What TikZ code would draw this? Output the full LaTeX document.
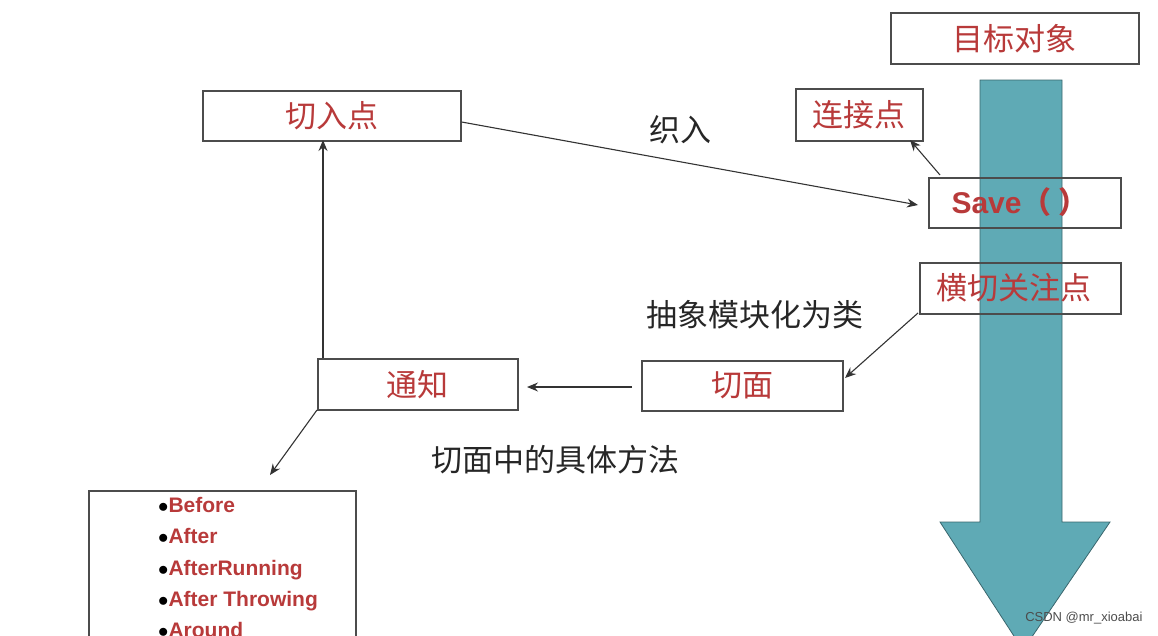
\documentclass[tikz,border=0pt]{standalone}
\usepackage{fontspec}
\setmainfont{Liberation Sans}
\newfontfamily\cjk{Noto Sans CJK SC}
\usetikzlibrary{arrows.meta}
\definecolor{tred}{HTML}{B83A3A}
\definecolor{teal1}{HTML}{5FAAB5}
\tikzset{
  bx/.style={draw=black!70, line width=1.6pt, anchor=north west, inner sep=0pt},
  bt/.style={text=tred, font=\cjk\fontsize{31}{34}\selectfont},
  lb/.style={font=\cjk\fontsize{31}{34}\selectfont, text=black!85},
  ar/.style={-{Stealth[length=11pt,width=9pt]}, line width=1.1pt, black!80},
}
\begin{document}
\begin{tikzpicture}[x=1pt,y=-1pt]
\useasboundingbox (0,0) rectangle (1158,635);
\clip (0,0) rectangle (1158,635);
% big arrow
\draw[fill=teal1, draw=teal1!60!black, line width=0.8pt]
  (980,80) -- (1062,80) -- (1062,522) -- (1110,522) -- (1023,650) -- (940,522) -- (980,522) -- cycle;
% boxes
\node[bx, minimum width=248, minimum height=51] (obj) at (890,12) {};
\node[bt] at (obj.center) {目标对象};
\node[bx, minimum width=258, minimum height=50] (cut) at (202,90) {};
\node[bt] at (cut.center) {切入点};
\node[bx, minimum width=127, minimum height=52] (jp) at (795,88) {};
\node[bt] at (jp.center) {连接点};
\node[bx, minimum width=192, minimum height=50] (save) at (928,177) {};
\node[text=tred, font=\bfseries\fontsize{30}{34}\selectfont, anchor=west] at (948,202) {Save\cjk（ ）};
\node[bx, minimum width=201, minimum height=51] (cc) at (919,262) {};
\node[bt, anchor=west] at (933,288) {横切关注点};
\node[bx, minimum width=201, minimum height=50] (asp) at (641,360) {};
\node[bt] at (asp.center) {切面};
\node[bx, minimum width=200, minimum height=51] (adv) at (317,358) {};
\node[bt] at (adv.center) {通知};
\node[bx, minimum width=267, minimum height=160] (list) at (88,490) {};
\node[anchor=north west, align=left, inner sep=0pt, font=\bfseries\fontsize{21}{31.3}\selectfont] at (158,497)
 {$\bullet$\textcolor{tred}{Before}\\$\bullet$\textcolor{tred}{After}\\$\bullet$\textcolor{tred}{AfterRunning}\\$\bullet$\textcolor{tred}{After Throwing}\\$\bullet$\textcolor{tred}{Around}};
% labels
\node[lb] at (680,130) {织入};
\node[lb] at (755,315) {抽象模块化为类};
\node[lb] at (555,460) {切面中的具体方法};
\node[font=\fontsize{13}{15}\selectfont, text=black!70, anchor=east] at (1146,618) {CSDN @mr\_xioabai};
% connectors
\draw[ar] (cut.east |- 0,122) -- (918,205);
\draw[ar] (940,175) -- (910,140);
\draw[ar] (918,313) -- (845,378);
\draw[ar] (632,387) -- (527,387);
\draw[ar] (323,358) -- (323,140);
\draw[ar] (317,410) -- (270,475);
\end{tikzpicture}
\end{document}
